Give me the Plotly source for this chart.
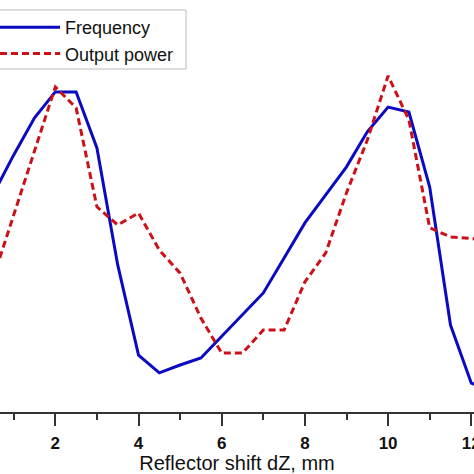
import plotly.graph_objects as go

# reflector shift, mm
shift_mm = [0.5, 1.0, 1.5, 2.0, 2.5, 3.0, 3.5, 4.0, 4.5, 5.0, 5.5, 6.0, 6.5,
            7.0, 7.5, 8.0, 8.5, 9.0, 9.5, 10.0, 10.5, 11.0, 11.5, 12.0, 12.5]

# normalised values (arb. units, y axis is not shown in the figure)
frequency = [52.7, 62.4, 71.4, 77.7, 77.7, 64.1, 35.7, 13.8, 9.5, 11.4, 13.1, 18.4, 23.5,
             28.9, 37.4, 45.9, 52.7, 59.5, 68.0, 74.0, 72.8, 54.6, 21.1, 7.0, 5.3]
output_power = [32.3, 47.8, 63.6, 78.9, 73.8, 49.8, 45.4, 48.3, 39.3, 33.7, 22.8, 14.3, 14.3,
                19.9, 19.9, 31.6, 38.6, 53.2, 66.0, 81.6, 70.9, 44.7, 42.5, 42.0, 41.7]

major_ticks = [2, 4, 6, 8, 10, 12]

FONT = 'Liberation Sans, Arial'


def add_series(fig: go.Figure, x, y, name, color, dash):
    """
    Add one line series
    """
    fig.add_trace(go.Scatter(
        x=x,
        y=y,
        mode='lines',
        line=dict(color=color, width=3, dash=dash),
        name=name
    ))


figure = go.Figure()
add_series(figure, shift_mm, frequency, 'Frequency', '#0a0ac0', 'solid')
add_series(figure, shift_mm, output_power, 'Output power', '#cc1018', '7px,4px')

figure.update_xaxes(
    range=[0.67, 12.065],
    tickvals=major_ticks,
    ticks='outside', ticklen=12, tickwidth=1.5, tickcolor='#333',
    minor=dict(dtick=1, tick0=0, ticks='outside', ticklen=6, tickwidth=1.5, tickcolor='#333'),
    showline=True, linecolor='#333', linewidth=1.5,
    showgrid=False, zeroline=False,
    tickfont=dict(family=FONT, size=17, color='#111', weight='bold'),
    ticklabelstandoff=3, ticklabeloverflow='allow',
    title=dict(text='Reflector shift dZ, mm', standoff=4,
               font=dict(family=FONT, size=20, color='#111')),
    automargin=False,
)
figure.update_yaxes(range=[0, 100], visible=False, showgrid=False, zeroline=False)

# legend frame, cut off at the left edge like the cropped original
figure.add_shape(type='rect', xref='paper', yref='paper',
                 x0=-0.05, x1=186 / 474, y0=1 - 69 / 412, y1=1 - 10 / 412,
                 line=dict(color='#bbb', width=1), fillcolor='white', layer='below')

figure.update_layout(
    width=474, height=474,
    margin=dict(l=0, r=0, t=0, b=62, autoexpand=False),
    plot_bgcolor='white', paper_bgcolor='white',
    showlegend=True,
    legend=dict(
        x=-5 / 474, y=1 - 9 / 412, xanchor='left', yanchor='top',
        bgcolor='rgba(0,0,0,0)', borderwidth=0,
        font=dict(family=FONT, size=18, color='#111'),
        itemwidth=60, tracegroupgap=0,
    ),
)

figure.write_html("out.html", config={'displayModeBar': False},
                  post_script="document.body.style.margin='0';")
